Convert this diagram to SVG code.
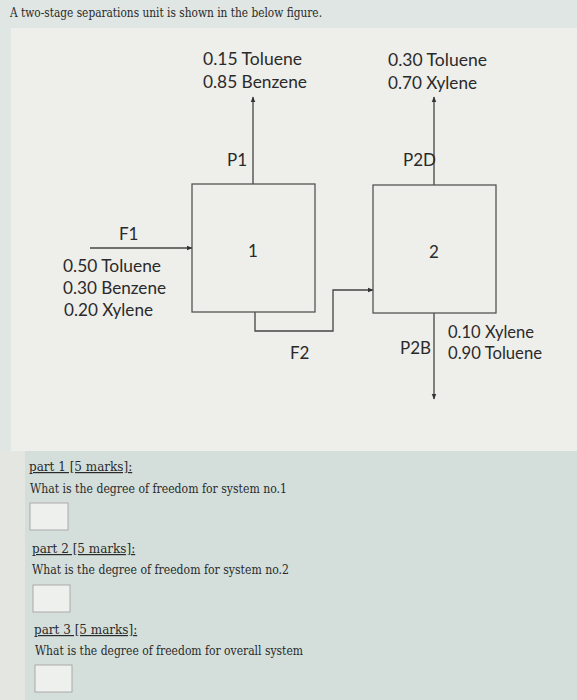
<svg xmlns="http://www.w3.org/2000/svg" width="577" height="700" viewBox="0 0 577 700">
<defs>
<marker id="ah" viewBox="0 0 10 10" refX="9" refY="5" markerWidth="6" markerHeight="6" orient="auto" markerUnits="userSpaceOnUse"><path d="M0,1 L10,5 L0,9 z" fill="#333"/></marker>
</defs>
<style>
.lbl{font-family:Lato,"Open Sans",sans-serif;font-size:17px;fill:#2a2a2a}
.q{font-family:"DejaVu Serif","Liberation Serif",serif;font-size:12px;fill:#2a2a2a}
.box{fill:none;stroke:#555;stroke-width:1.3}
.ln{fill:none;stroke:#444;stroke-width:1.3}
.ans{fill:#eef0ee;stroke:#aaa;stroke-width:1}
</style>
<rect x="0" y="0" width="577" height="700" fill="#dfe6e3"/>
<rect x="11" y="28" width="566" height="423" fill="#eeeeea"/>
<rect x="0" y="451" width="25" height="249" fill="#e4e6e2"/>
<rect x="25" y="451" width="552" height="249" fill="#d4dfdc"/>
<text x="10" y="17" class="q" font-size="12.5" textLength="312" lengthAdjust="spacingAndGlyphs">A two-stage separations unit is shown in the below figure.</text>

<g id="connectors">
<line class="ln" x1="253" y1="184" x2="253" y2="97" marker-end="url(#ah)"/>
<line class="ln" x1="434" y1="185" x2="434" y2="97" marker-end="url(#ah)"/>
<line class="ln" x1="90" y1="248" x2="192" y2="248" marker-end="url(#ah)"/>
<polyline class="ln" points="255,312 255,331 333,331 333,290 373,290" marker-end="url(#ah)"/>
<line class="ln" x1="434" y1="313" x2="434" y2="399" marker-end="url(#ah)"/>
</g>

<g id="unit1">
<rect class="box" x="192" y="184" width="123" height="128"/>
<text class="lbl" x="253" y="257" text-anchor="middle" font-size="16">1</text>
</g>
<g id="unit2">
<rect class="box" x="373" y="185" width="123" height="128"/>
<text class="lbl" x="434" y="258" text-anchor="middle" font-size="16">2</text>
</g>

<g id="P1">
<text class="lbl" x="203" y="65" textLength="99" lengthAdjust="spacingAndGlyphs">0.15 Toluene</text>
<text class="lbl" x="203" y="88" textLength="104" lengthAdjust="spacingAndGlyphs">0.85 Benzene</text>
<text class="lbl" x="227" y="166" font-size="15">P1</text>
</g>
<g id="P2D">
<text class="lbl" x="388" y="66" textLength="99" lengthAdjust="spacingAndGlyphs">0.30 Toluene</text>
<text class="lbl" x="388" y="89" textLength="89" lengthAdjust="spacingAndGlyphs">0.70 Xylene</text>
<text class="lbl" x="403" y="166" font-size="15">P2D</text>
</g>
<g id="F1">
<text class="lbl" x="119" y="240" font-size="15">F1</text>
<text class="lbl" x="63" y="272" textLength="98" lengthAdjust="spacingAndGlyphs">0.50 Toluene</text>
<text class="lbl" x="63" y="294" textLength="103" lengthAdjust="spacingAndGlyphs">0.30 Benzene</text>
<text class="lbl" x="64" y="316" textLength="89" lengthAdjust="spacingAndGlyphs">0.20 Xylene</text>
</g>
<g id="F2">
<text class="lbl" x="290" y="359" font-size="15">F2</text>
</g>
<g id="P2B">
<text class="lbl" x="400" y="354" font-size="15">P2B</text>
<text class="lbl" x="448" y="338" textLength="86" lengthAdjust="spacingAndGlyphs">0.10 Xylene</text>
<text class="lbl" x="448" y="359" textLength="94" lengthAdjust="spacingAndGlyphs">0.90 Toluene</text>
</g>

<g id="questions">
<text class="q" x="29" y="471" text-decoration="underline">part 1 [5 marks]:</text>
<text class="q" x="30" y="493" textLength="257" lengthAdjust="spacingAndGlyphs">What is the degree of freedom for system no.1</text>
<rect class="ans" x="30" y="503" width="38" height="27"/>
<text class="q" x="32" y="553" text-decoration="underline">part 2 [5 marks]:</text>
<text class="q" x="32" y="574" textLength="257" lengthAdjust="spacingAndGlyphs">What is the degree of freedom for system no.2</text>
<rect class="ans" x="33" y="585" width="37" height="27"/>
<text class="q" x="34" y="634" text-decoration="underline">part 3 [5 marks]:</text>
<text class="q" x="35" y="655" textLength="268" lengthAdjust="spacingAndGlyphs">What is the degree of freedom for overall system</text>
<rect class="ans" x="35" y="665" width="37" height="27"/>
</g>
</svg>
